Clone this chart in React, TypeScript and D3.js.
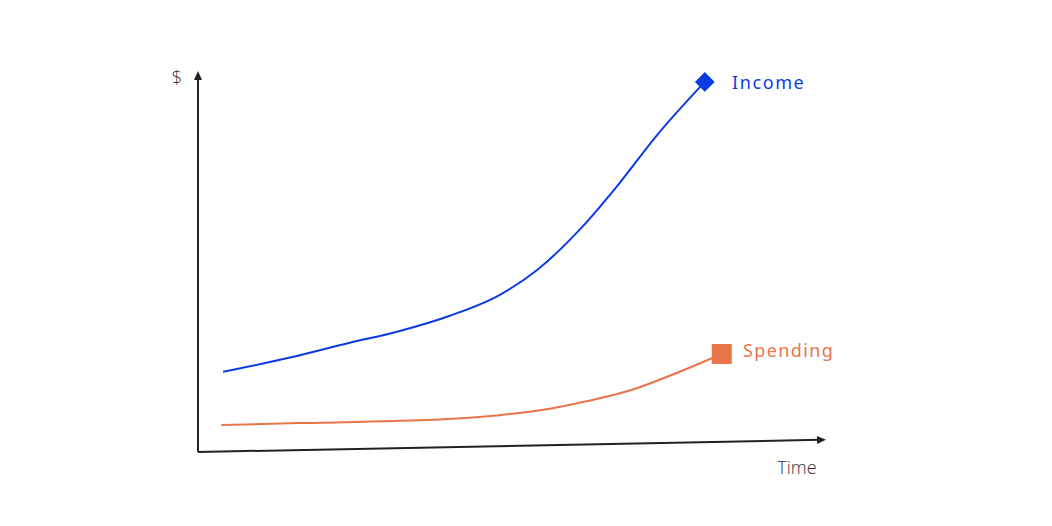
import React from "react";
import * as d3 from "d3";

// time positions (0-100) and values (0-100)
const incomeT = [4, 15, 24, 32, 40, 48, 54, 61, 67, 73, 80.7];
const incomeV = [21.1, 25.0, 28.7, 31.8, 35.8, 41.3, 47.9, 58.9, 70.5, 83.2, 97.4];
const spendingT = [3.7, 16, 32, 42, 48, 55, 62, 69, 75, 83.4];
const spendingV = [7.1, 7.6, 8.2, 8.9, 9.7, 11.1, 13.4, 16.3, 20.0, 25.8];
const labels = { income: "Income", spending: "Spending", x: "Time", y: "$" };

const W = 1052;
const H = 526;
const BLUE = "#0c3be3";
const ORANGE = "#e8744a";
const INK = "#222";

export default function App() {
  const x = d3.scaleLinear().domain([0, 100]).range([198, 826]);
  const y = d3.scaleLinear().domain([0, 100]).range([452, 72]);

  const line = d3
    .line<[number, number]>()
    .x((d) => x(d[0]))
    .y((d) => y(d[1]))
    .curve(d3.curveMonotoneX);

  const income: [number, number][] = incomeT.map((t, i) => [t, incomeV[i]]);
  const spending: [number, number][] = spendingT.map((t, i) => [t, spendingV[i]]);
  const incEnd = income[income.length - 1];
  const spEnd = spending[spending.length - 1];

  // x axis drawn with a slight hand-drawn tilt
  const tilt = 3.2;
  const ax0 = [x(0), y(0)];
  const ax1 = [x(100), y(tilt)];
  const ang = Math.atan2(ax1[1] - ax0[1], ax1[0] - ax0[0]);

  return (
    <svg width={W} height={H} style={{ position: "absolute", left: 0, top: 0 }}>
      <rect width={W} height={H} fill="#fff" />
      {/* axes */}
      <line x1={x(0)} y1={y(0)} x2={x(0)} y2={y(100) + 6} stroke={INK} strokeWidth={2} />
      <path d={`M${x(0)},${y(100) - 1}l-4,9h8z`} fill={INK} />
      <line x1={ax0[0]} y1={ax0[1]} x2={ax1[0] - 6} y2={ax1[1]} stroke={INK} strokeWidth={2} />
      <path
        d="M0,0l-9,-4v8z"
        fill={INK}
        transform={`translate(${ax1[0]},${ax1[1]}) rotate(${(ang * 180) / Math.PI})`}
      />
      <text x={177} y={84} fontFamily="Open Sans" fontWeight={300} fontSize={19} fill="#333" textAnchor="middle">
        {labels.y}
      </text>
      <text x={797} y={474} fontFamily="Open Sans" fontWeight={300} fontSize={18} fill="#333" textAnchor="middle">
        {labels.x}
      </text>

      {/* lines */}
      <path d={line(spending) ?? ""} fill="none" stroke={ORANGE} strokeWidth={2} />
      <path d={line(income) ?? ""} fill="none" stroke={BLUE} strokeWidth={2} />

      {/* end markers */}
      <rect
        x={x(incEnd[0]) - 7}
        y={y(incEnd[1]) - 7}
        width={14}
        height={14}
        fill={BLUE}
        transform={`rotate(45 ${x(incEnd[0])} ${y(incEnd[1])})`}
      />
      <rect x={x(spEnd[0]) - 10} y={y(spEnd[1]) - 10} width={20} height={20} fill={ORANGE} />

      <text x={732} y={89} fontFamily="Noto Sans" fontSize={18} fill={BLUE} letterSpacing={1.6}>
        {labels.income}
      </text>
      <text x={743} y={357} fontFamily="Noto Sans" fontSize={18} fill={ORANGE} letterSpacing={1.4}>
        {labels.spending}
      </text>
    </svg>
  );
}
